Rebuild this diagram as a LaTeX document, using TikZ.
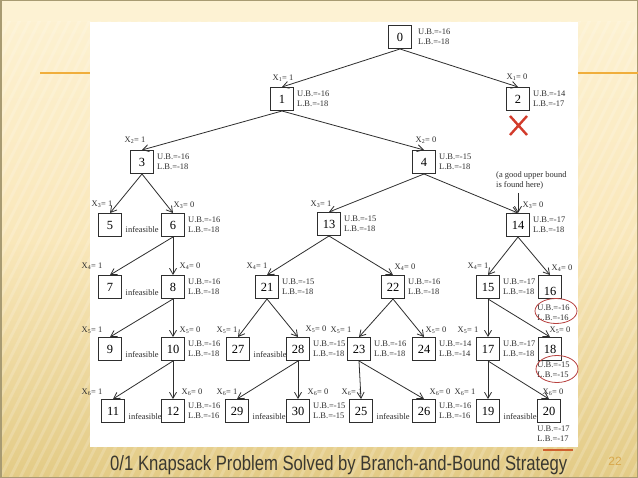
\documentclass[tikz,border=0pt]{standalone}
\usepackage{fontspec}
\usepackage{graphicx}
\setmainfont{Liberation Serif}
\newfontfamily\titlefont{Liberation Sans}
\usetikzlibrary{arrows.meta}
\definecolor{bgtop}{HTML}{FDF2D3}
\definecolor{bgmid}{HTML}{F9E7BA}
\definecolor{bgbot}{HTML}{E3CB86}
\definecolor{framecol}{HTML}{A89B72}
\definecolor{titlecol}{HTML}{3A3830}
\definecolor{pagecol}{HTML}{D8A84C}
\definecolor{accent}{HTML}{F0AE3C}
\definecolor{accentred}{HTML}{D0602E}
\definecolor{redmark}{HTML}{D23B2B}
\definecolor{ellcol}{HTML}{B8413F}
\definecolor{linecol}{HTML}{2E2E2E}
\begin{document}
\begin{tikzpicture}[x=1bp,y=-1bp,
  box/.style={draw=linecol, line width=1bp, minimum size=23bp, inner sep=0pt,
    font=\fontsize{12.5}{13}\selectfont},
  bnd/.style={font=\fontsize{8.5}{10.5}\selectfont, align=left, inner sep=0pt, text=linecol},
  xl/.style={font=\fontsize{8.5}{10}\selectfont, inner sep=0pt, text=linecol},
  inf/.style={font=\fontsize{8.5}{10}\selectfont, inner sep=0pt, anchor=base west, text=linecol},
  edge/.style={draw=linecol, line width=0.8bp, -{Straight Barb[length=6bp,width=7bp]}},
  ellmark/.style={draw=ellcol, line width=0.8bp},
  ]
\useasboundingbox (0,0) rectangle (638,478);
% background
\shade[top color=bgtop, bottom color=bgbot, middle color=bgmid] (0,0) rectangle (638,478);
\fill[bgtop] (0,0) rectangle (638,22);
\begin{scope}
  \clip (0,22) rectangle (638,478);
  \foreach \k in {-300,-290,...,640}
    \draw[white, opacity=0.18, line width=3bp] (\k,478) -- (\k+240,0);
\end{scope}
\draw[framecol, line width=1.5bp] (0.75,0.75) rectangle (637.25,477.25);
\draw[accent, line width=1.2bp] (40,73) -- (638,73);
\fill[white] (90,22) rectangle (578,447);
\draw[accentred, line width=1.2bp] (543,450) -- (573,450);
% title
\node[anchor=base west, inner sep=0pt, text=titlecol] (title) at (110,470)
  {\resizebox{457bp}{15bp}{\titlefont 0/1 Knapsack Problem Solved by Branch-and-Bound Strategy}};
\node[text=pagecol, font=\fontsize{12}{12}\selectfont\titlefont, inner sep=0pt] (pg) at (615,461) {22};
% nodes
\node[box] (n0) at (400,37) {0};
\node[box] (n1) at (282,99) {1};
\node[box] (n2) at (518,99) {2};
\node[box] (n3) at (142,162) {3};
\node[box] (n4) at (424,162) {4};
\node[box] (n5) at (110,225) {5};
\node[box] (n6) at (173,225) {6};
\node[box] (n13) at (329,224) {13};
\node[box] (n14) at (518,225) {14};
\node[box] (n7) at (110,287) {7};
\node[box] (n8) at (173,287) {8};
\node[box] (n21) at (267,287) {21};
\node[box] (n22) at (393,287) {22};
\node[box] (n15) at (488,287) {15};
\node[box] (n16) at (550,287) {\raisebox{-8bp}[0pt][0pt]{16}};
\node[box] (n9) at (110,349) {9};
\node[box] (n10) at (173,349) {10};
\node[box] (n27) at (238,349) {27};
\node[box] (n28) at (298,349) {28};
\node[box] (n23) at (359,349) {23};
\node[box] (n24) at (424,349) {24};
\node[box] (n17) at (488,349) {17};
\node[box] (n18) at (550,349) {18};
\node[box] (n11) at (113,411) {11};
\node[box] (n12) at (173,411) {12};
\node[box] (n29) at (237,411) {29};
\node[box] (n30) at (298,411) {30};
\node[box] (n25) at (361,411) {25};
\node[box] (n26) at (424,411) {26};
\node[box] (n19) at (488,411) {19};
\node[box] (n20) at (549,411) {20};
% edges
\foreach \p/\c in {0/1,0/2,1/3,1/4,3/5,3/6,4/13,4/14,6/7,6/8,13/21,13/22,14/15,14/16,
  8/9,8/10,21/27,21/28,22/23,22/24,15/17,15/18,10/11,10/12,28/29,28/30,23/25,23/26,17/19,17/20}
  \draw[edge] (n\p.south) -- (n\c.north);
% annotation
\node[bnd, anchor=north west] (ann) at (496,171) {(a good upper bound\\is found here)};
\coordinate (annend) at (518,193);
\draw[edge] (annend) -- (n14.north);
% red cross
\draw[redmark, line width=2.4bp] (510,116) -- (527,135) (527,116) -- (510,135);
% bounds right of boxes
\node[bnd, anchor=west] (b0) at ([xshift=6bp]n0.east) {U.B.=-16\\L.B.=-18};
\foreach \n/\u/\l in {1/16/18,2/14/17,3/16/18,4/15/18,6/16/18,13/15/18,14/17/18,8/16/18,21/15/18,
  22/16/18,15/17/18,10/16/18,28/15/18,23/16/18,24/14/14,17/17/18,12/16/16,30/15/15,26/16/16}
  \node[bnd, anchor=west] (b\n) at ([xshift=3bp]n\n.east) {U.B.=-\u\\L.B.=-\l};
% bounds below boxes
\node[bnd, anchor=center] (b16) at (553.5,312.5) {U.B.=-16\\L.B.=-16};
\node[bnd, anchor=center] (b18) at (553.5,370) {U.B.=-15\\L.B.=-15};
\node[bnd, anchor=center] (b20) at (553.5,433.5) {U.B.=-17\\L.B.=-17};
\draw[ellmark] (556,311) ellipse [x radius=21, y radius=12.5];
\draw[ellmark] (557,369) ellipse [x radius=21, y radius=13.5];
% infeasible
\foreach \n in {5,7,9,27,11,29,25,19}
  \node[inf] (i\n) at ([xshift=3.5bp,yshift=4bp]n\n.south east) {infeasible};
% edge labels
\foreach \i/\x/\y/\t in {
  a/283/78/X\textsubscript{1}= 1, b/517/77/X\textsubscript{1}= 0,
  c/135/140/X\textsubscript{2}= 1, d/426/140/X\textsubscript{2}= 0,
  e/102/204/X\textsubscript{3}= 1, f/184/205/X\textsubscript{3}= 0,
  g/321/204/X\textsubscript{3}= 1, h/533/205/X\textsubscript{3}= 0,
  i/92/266/X\textsubscript{4}= 1, j/190/266/X\textsubscript{4}= 0,
  k/257/266/X\textsubscript{4}= 1, l/405/267/X\textsubscript{4}= 0,
  m/478/266/X\textsubscript{4}= 1, n/562/268/X\textsubscript{4}= 0,
  o/92/330/X\textsubscript{5}= 1, p/190/330/X\textsubscript{5}= 0,
  q/227/330/X\textsubscript{5}= 1, r/316/329/X\textsubscript{5}= 0,
  s/341/330/X\textsubscript{5}= 1, t/436/330/X\textsubscript{5}= 0,
  u/468/330/X\textsubscript{5}= 1, v/560/330/X\textsubscript{5}= 0,
  w/92/392/X\textsubscript{6}= 1, x/192/392/X\textsubscript{6}= 0,
  y/227/392/X\textsubscript{6}= 1, z/318/392/X\textsubscript{6}= 0,
  aa/352/392/X\textsubscript{6}= 1, ab/440/392/X\textsubscript{6}= 0,
  ac/465/392/X\textsubscript{6}= 1, ad/553/392/X\textsubscript{6}= 0}
  \node[xl] (x\i) at (\x,\y) {\t};
\end{tikzpicture}
\end{document}
